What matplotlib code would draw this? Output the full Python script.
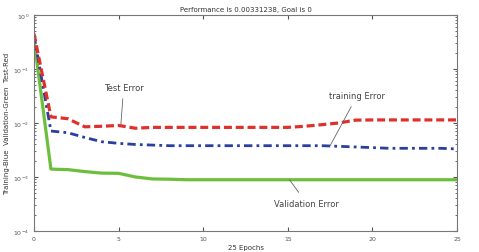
import matplotlib
matplotlib.use("Agg")
import matplotlib.pyplot as plt
import numpy as np

epochs = list(range(26))
test_err = [0.45, 0.013, 0.012, 0.0085, 0.0087, 0.009, 0.008, 0.0083, 0.0083, 0.0083,
            0.0083, 0.0083, 0.0083, 0.0083, 0.0083, 0.0083, 0.0087, 0.0093, 0.0100, 0.0113,
            0.0114, 0.0114, 0.0114, 0.0114, 0.0114, 0.0114]
train_err = [0.42, 0.0071, 0.0066, 0.0054, 0.0045, 0.0042, 0.0040, 0.0039, 0.0038, 0.0038,
             0.0038, 0.0038, 0.0038, 0.0038, 0.0038, 0.0038, 0.0038, 0.0038, 0.0037, 0.0036,
             0.0035, 0.0034, 0.0034, 0.0034, 0.0034, 0.00331]
val_err = [0.35, 0.0014, 0.00137, 0.00126, 0.00118, 0.00117, 0.00100, 0.00092, 0.00091, 0.00089,
           0.00089, 0.00089, 0.00089, 0.00089, 0.00089, 0.00089, 0.00089, 0.00089, 0.00089, 0.00089,
           0.00089, 0.00089, 0.00089, 0.00089, 0.00089, 0.00089]
x_ticks = [0, 5, 10, 15, 20, 25]

fig = plt.figure(figsize=(4.79, 2.53), dpi=100)
ax = fig.add_axes([34/479, 21/253, 423/479, 216/253])

ax.plot(epochs, val_err, color="#6cbf3c", lw=2.3, solid_capstyle="butt")
ax.plot(epochs, train_err, color="#2a3f9e", lw=2.0, linestyle=(0, (3, 1.5, 1, 1.5)))
ax.plot(epochs, test_err, color="#e0302c", lw=2.3, linestyle=(0, (2.5, 1.2)))

ax.set_yscale("log")
ax.set_ylim(1e-4, 1)
ax.set_xlim(0, 25)
ax.set_xticks(x_ticks)
ax.tick_params(axis="both", which="both", direction="in", labelsize=4.5, colors="#555555",
               top=True, right=True, length=3)
ax.tick_params(which="minor", length=1.5)
for s in ax.spines.values():
    s.set_color("#777777")
    s.set_linewidth(0.8)

ax.set_title("Performance is 0.00331238, Goal is 0", fontsize=5, color="#333333", pad=3)
ax.set_xlabel("25 Epochs", fontsize=5, color="#333333", labelpad=2)
ax.set_ylabel("Training-Blue  Validation-Green  Test-Red", fontsize=5, color="#333333", labelpad=2)

ann = dict(fontsize=6, color="#444444", ha="center", va="center",
           arrowprops=dict(arrowstyle="-", color="#666666", lw=0.6, shrinkA=3, shrinkB=0))
ax.annotate("Test Error", xy=(5.13, test_err[5]), xytext=(5.3, 0.046), **ann)
ax.annotate("training Error", xy=(17.5, 0.0038), xytext=(19.1, 0.032), **ann)
ax.annotate("Validation Error", xy=(15.1, 0.00089), xytext=(16.1, 0.00033), **ann)

fig.savefig("out.png", dpi=100)
